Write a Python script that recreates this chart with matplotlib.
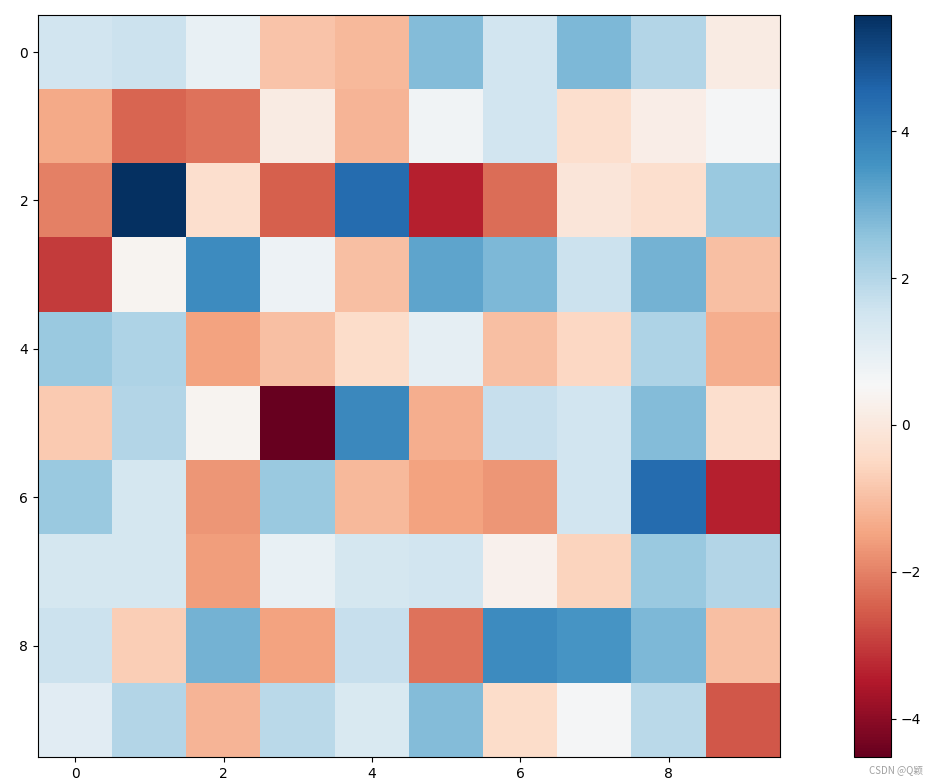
from matplotlib import pyplot as plt
import numpy as np

row0 = [1.5, 1.6, 0.9, -0.9, -1.1, 2.7, 1.5, 2.8, 2.0, 0.1]
row1 = [-1.4, -2.4, -2.2, 0.1, -1.2, 0.7, 1.5, -0.3, 0.2, 0.6]
row2 = [-2.0, 5.58, -0.3, -2.5, 4.4, -3.4, -2.3, -0.1, -0.3, 2.4]
row3 = [-3.0, 0.4, 3.7, 0.8, -1.0, 3.2, 2.8, 1.6, 2.9, -1.0]
row4 = [2.4, 2.1, -1.5, -1.0, -0.4, 1.0, -1.0, -0.5, 2.1, -1.3]
row5 = [-0.8, 2.0, 0.4, -4.52, 3.8, -1.3, 1.7, 1.5, 2.7, -0.3]
row6 = [2.4, 1.4, -1.7, 2.4, -1.1, -1.5, -1.7, 1.5, 4.4, -3.4]
row7 = [1.4, 1.4, -1.6, 0.9, 1.4, 1.5, 0.3, -0.6, 2.4, 2.0]
row8 = [1.6, -0.7, 2.9, -1.5, 1.7, -2.2, 3.7, 3.5, 2.8, -1.0]
row9 = [1.1, 2.0, -1.2, 1.9, 1.3, 2.7, -0.4, 0.6, 1.9, -2.6]

data = np.array([row0, row1, row2, row3, row4, row5, row6, row7, row8, row9])

W, H = 939, 784
fig = plt.figure(figsize=(W / 100, H / 100), dpi=100)
ax = fig.add_axes([38 / W, 1 - 757 / H, 742 / W, 742 / H])
im = ax.imshow(data, cmap="RdBu", aspect="equal", interpolation="nearest")
ax.set_xticks([0, 2, 4, 6, 8])
ax.set_yticks([0, 2, 4, 6, 8])

cax = fig.add_axes([854 / W, 1 - 757 / H, 37 / W, 742 / H])
fig.colorbar(im, cax=cax)

# watermark
fig.text(923 / W, 1 - 770 / H, "CSDN @Q颖", fontsize=7, color="#a0a0a0",
         ha="right", va="center", family=["Noto Sans CJK SC", "DejaVu Sans"])

fig.savefig("out.png", dpi=100)
